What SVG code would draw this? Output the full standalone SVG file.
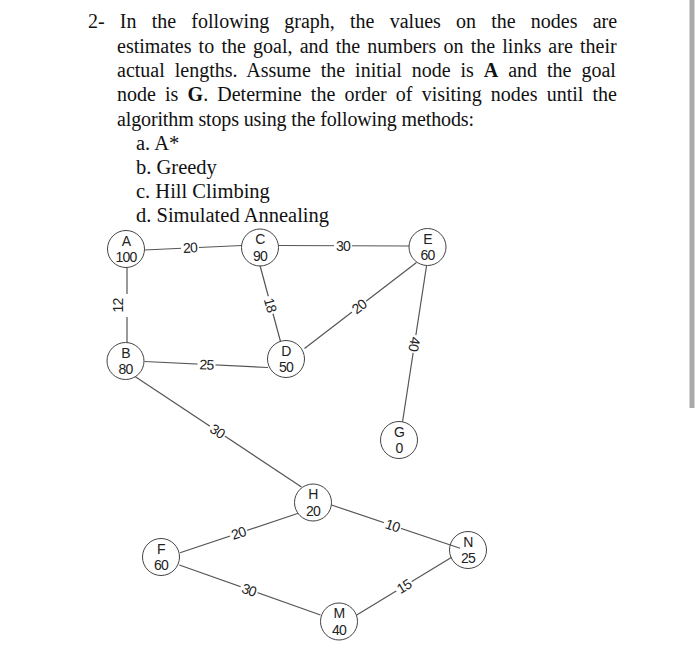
<svg xmlns="http://www.w3.org/2000/svg" width="700" height="659" viewBox="0 0 700 659">
<style>
.t{font-family:"Liberation Serif","Times New Roman",serif;font-size:20px;fill:#111}
.s{font-size:20.5px}
.b{font-weight:bold}
.nc{fill:#fff;stroke:#444;stroke-width:1}
.nt{font-family:"Liberation Sans",Arial,sans-serif;font-size:14px;fill:#222;text-anchor:middle;letter-spacing:-0.8px}
.e{stroke:#555;stroke-width:1.2;fill:none}
.lb{fill:#fff}
.lt{font-family:"Liberation Sans",Arial,sans-serif;font-size:14px;fill:#222;text-anchor:middle;letter-spacing:-0.7px}
</style>
<rect width="700" height="659" fill="#fff"/>
<rect x="689.5" y="0" width="5" height="408" fill="#a9a9a9"/>
<g id="question">
<text class="t" x="88" y="28" word-spacing="10.2">2- In the following graph, the values on the nodes are</text>
<text class="t" x="117" y="53" word-spacing="2.2">estimates to the goal, and the numbers on the links are their</text>
<text class="t" x="117" y="77" word-spacing="4.95">actual lengths. Assume the initial node is <tspan class="b">A</tspan> and the goal</text>
<text class="t" x="117" y="101" word-spacing="4.17">node is <tspan class="b">G</tspan>. Determine the order of visiting nodes until the</text>
<text class="t" x="117" y="126" textLength="357" lengthAdjust="spacing">algorithm stops using the following methods:</text>
<text class="t s" x="136" y="150">a. A*</text>
<text class="t s" x="136" y="174">b. Greedy</text>
<text class="t s" x="136" y="198">c. Hill Climbing</text>
<text class="t s" x="136" y="222">d. Simulated Annealing</text>
</g>
<g id="node-A"><circle class="nc" cx="126" cy="249" r="18.5"/><text class="nt" x="126" y="245.5">A</text><text class="nt" x="126" y="262">100</text></g>
<g id="node-C"><circle class="nc" cx="260" cy="247.5" r="18.5"/><text class="nt" x="260" y="244">C</text><text class="nt" x="260" y="260.5">90</text></g>
<g id="node-E"><circle class="nc" cx="427.5" cy="247" r="18.5"/><text class="nt" x="427.5" y="243.5">E</text><text class="nt" x="427.5" y="260">60</text></g>
<g id="node-B"><circle class="nc" cx="125.5" cy="361" r="18.5"/><text class="nt" x="125.5" y="357.5">B</text><text class="nt" x="125.5" y="374">80</text></g>
<g id="node-D"><circle class="nc" cx="286" cy="359" r="18.5"/><text class="nt" x="286" y="355.5">D</text><text class="nt" x="286" y="372">50</text></g>
<g id="node-G"><circle class="nc" cx="399" cy="440" r="18.5"/><text class="nt" x="399" y="436.5">G</text><text class="nt" x="399" y="453">0</text></g>
<g id="node-H"><circle class="nc" cx="313" cy="502.5" r="18.5"/><text class="nt" x="313" y="499">H</text><text class="nt" x="313" y="515.5">20</text></g>
<g id="node-F"><circle class="nc" cx="161" cy="557" r="18.5"/><text class="nt" x="161" y="553.5">F</text><text class="nt" x="161" y="570">60</text></g>
<g id="node-N"><circle class="nc" cx="468" cy="550" r="18.5"/><text class="nt" x="468" y="546.5">N</text><text class="nt" x="468" y="563">25</text></g>
<g id="node-M"><circle class="nc" cx="339" cy="621.5" r="18.5"/><text class="nt" x="339" y="618">M</text><text class="nt" x="339" y="634.5">40</text></g>
<g id="connectors">
<line class="e" x1="144" y1="250" x2="242" y2="245.5"/>
<line class="e" x1="278.5" y1="245.5" x2="409.5" y2="246"/>
<line class="e" x1="127" y1="267.5" x2="127" y2="294"/>
<line class="e" x1="127" y1="317" x2="127" y2="343"/>
<line class="e" x1="260" y1="265.5" x2="280.5" y2="341.5"/>
<line class="e" x1="304.5" y1="348.5" x2="416.5" y2="262.5"/>
<line class="e" x1="426.5" y1="266" x2="402.5" y2="422"/>
<line class="e" x1="144.5" y1="361.5" x2="268" y2="367.5"/>
<line class="e" x1="135" y1="376.5" x2="301.5" y2="487"/>
<line class="e" x1="331.5" y1="505" x2="460" y2="548.3"/>
<line class="e" x1="180" y1="552.7" x2="298.3" y2="513.3"/>
<line class="e" x1="179.3" y1="565" x2="320.5" y2="615"/>
<line class="e" x1="356.7" y1="615" x2="451.7" y2="557.3"/>
<g transform="translate(190,247.6) rotate(-2.9)"><rect class="lb" x="-9" y="-6" width="18" height="12"/><text class="lt" y="5">20</text></g>
<g transform="translate(343,245.8) rotate(0.2)"><rect class="lb" x="-9" y="-6" width="18" height="12"/><text class="lt" y="5">30</text></g>
<g transform="translate(117.5,305.5) rotate(-90)"><text class="lt" y="5">12</text></g>
<g transform="translate(270.5,305) rotate(75)"><rect class="lb" x="-9" y="-6" width="18" height="12"/><text class="lt" y="5">18</text></g>
<g transform="translate(359,306.5) rotate(-37.5)"><rect class="lb" x="-9" y="-6" width="18" height="12"/><text class="lt" y="5">20</text></g>
<g transform="translate(414.5,344) rotate(98.7)"><rect class="lb" x="-9" y="-6" width="18" height="12"/><text class="lt" y="5">40</text></g>
<g transform="translate(206.5,364.6) rotate(2.8)"><rect class="lb" x="-9" y="-6" width="18" height="12"/><text class="lt" y="5">25</text></g>
<g transform="translate(217.5,431) rotate(33.5)"><rect class="lb" x="-9" y="-6" width="18" height="12"/><text class="lt" y="5">30</text></g>
<g transform="translate(392.5,525.5) rotate(18.6)"><rect class="lb" x="-9" y="-6" width="18" height="12"/><text class="lt" y="5">10</text></g>
<g transform="translate(238.5,533.1) rotate(-18.4)"><rect class="lb" x="-9" y="-6" width="18" height="12"/><text class="lt" y="5">20</text></g>
<g transform="translate(249,589.8) rotate(19.6)"><rect class="lb" x="-9" y="-6" width="18" height="12"/><text class="lt" y="5">30</text></g>
<g transform="translate(404,586.3) rotate(-31.3)"><rect class="lb" x="-9" y="-6" width="18" height="12"/><text class="lt" y="5">15</text></g>
</g>
</svg>
